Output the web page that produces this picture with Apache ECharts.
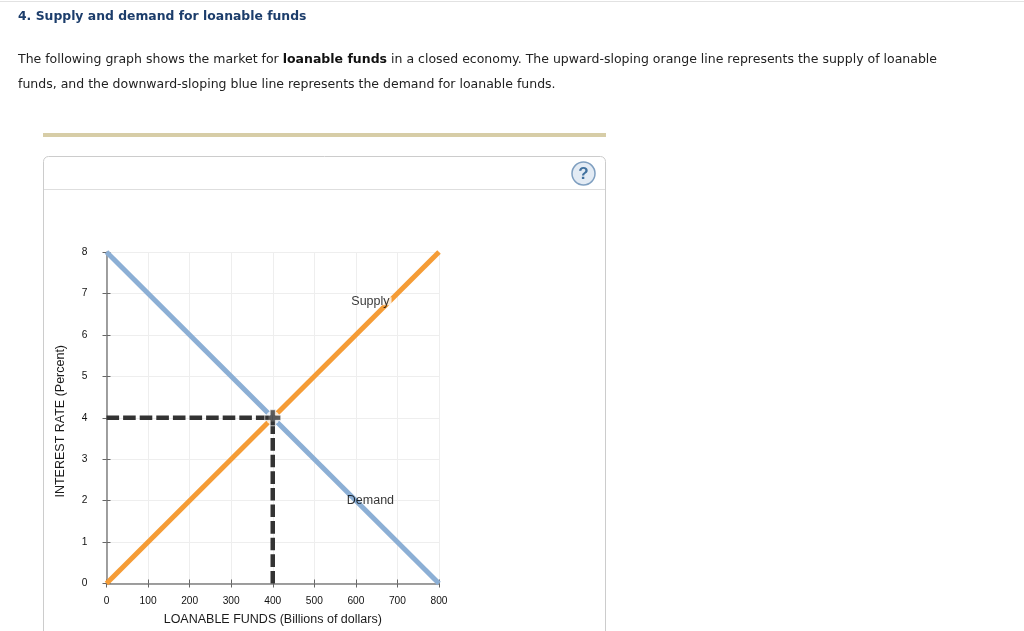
<!DOCTYPE html>
<html><head><meta charset="utf-8">
<style>html,body{margin:0;padding:0;background:#fff;overflow:hidden}#c{width:1024px;height:631px}</style>
<script src="https://cdn.jsdelivr.net/npm/echarts@6/dist/echarts.min.js"></script>
</head><body><div id="c"></div>
<script>
const heading = "4. Supply and demand for loanable funds";
const introBefore = "The following graph shows the market for ";
const introBold = "loanable funds";
const introAfter = " in a closed economy. The upward-sloping orange line represents the supply of loanable";
const introLine2 = "funds, and the downward-sloping blue line represents the demand for loanable funds.";
const xTitle = "LOANABLE FUNDS (Billions of dollars)";
const yTitle = "INTEREST RATE (Percent)";
const supplyData = [[0,0],[800,8]];
const demandData = [[0,8],[800,0]];
const eqHoriz = [[0,4],[400,4]];
const eqVert = [[400,0],[400,4]];
const equilibrium = [[400,4]];
const supplyLabel = [[635,6.81]];
const demandLabel = [[635,1.99]];
const font = "Liberation Sans";
const pageFont = "DejaVu Sans";
const chart = echarts.init(document.getElementById('c'), null, {renderer:'canvas'});
const plus = 'path://M-2.6,-8H2.6V-2.6H8V2.6H2.6V8H-2.6V2.6H-8V-2.6H-2.6Z';
const pageText = (x,y,style)=>({type:'text',x,y,silent:true,style:Object.assign({fontFamily:pageFont,fontSize:12.5,fill:'#222',verticalAlign:'middle'},style)});
const axisGrey = '#808080';
chart.setOption({
  animation:false,
  backgroundColor:'#fff',
  grid:{left:106.5,top:252,width:332.5,height:332,containLabel:false},
  xAxis:[{type:'value',min:0,max:800,interval:100,
    name:xTitle,nameLocation:'middle',nameGap:29.5,nameTextStyle:{fontFamily:font,fontSize:12.5,color:'#1a1a1a'},
    axisLine:{show:true,onZero:false,lineStyle:{color:axisGrey,width:1.5}},
    axisTick:{show:true,length:4,lineStyle:{color:'#666'}},
    axisLabel:{fontFamily:font,fontSize:10.2,color:'#111',margin:12.5,hideOverlap:false,showMinLabel:true,showMaxLabel:true},
    splitLine:{show:true,lineStyle:{color:'#eeeeee',width:1}}},
   {type:'value',position:'bottom',min:0,max:800,interval:100,
    axisLine:{show:false},axisTick:{show:true,inside:true,length:4,lineStyle:{color:'#666'}},axisLabel:{show:false},splitLine:{show:false}}],
  yAxis:[{type:'value',min:0,max:8,interval:1,
    name:yTitle,nameLocation:'middle',nameRotate:90,nameGap:39,nameTextStyle:{fontFamily:font,fontSize:12.5,color:'#1a1a1a',padding:[0,0,0,-7]},
    axisLine:{show:true,onZero:false,lineStyle:{color:axisGrey,width:1.5}},
    axisTick:{show:true,length:4,lineStyle:{color:'#666'}},
    axisLabel:{fontFamily:font,fontSize:10.2,color:'#111',margin:19,padding:[2,0,0,0],showMinLabel:true,showMaxLabel:true},
    splitLine:{show:true,lineStyle:{color:'#eeeeee',width:1}}},
   {type:'value',position:'left',min:0,max:8,interval:1,
    axisLine:{show:false},axisTick:{show:true,inside:true,length:4,lineStyle:{color:'#666'}},axisLabel:{show:false},splitLine:{show:false}}],
  series:[
    {name:'Supply',type:'line',data:supplyData,showSymbol:false,silent:true,clip:false,z:3,lineStyle:{color:'#f59c36',width:5,cap:'butt'}},
    {name:'Demand',type:'line',data:demandData,showSymbol:false,silent:true,clip:false,z:3,lineStyle:{color:'#8cafd5',width:5,cap:'butt'}},
    {name:'Halo',type:'scatter',data:equilibrium,symbol:'circle',symbolSize:14,silent:true,z:4,itemStyle:{color:'#fff'}},
    {name:'EqH',type:'line',data:eqHoriz,showSymbol:false,silent:true,z:5,lineStyle:{color:'#333',width:4.5,type:[12.6,4],cap:'butt'}},
    {name:'EqV',type:'line',data:eqVert,showSymbol:false,silent:true,z:5,lineStyle:{color:'#333',width:4.5,type:[12.6,4],cap:'butt'}},
    {name:'Equilibrium',type:'scatter',data:equilibrium,symbol:plus,symbolSize:16,silent:true,z:6,itemStyle:{color:'#333',borderColor:'#fff',borderWidth:0.8}},
    {name:'SupplyLabel',type:'scatter',data:supplyLabel,symbolSize:1,silent:true,z:7,itemStyle:{color:'transparent'},
      label:{show:true,position:'inside',formatter:'Supply',fontFamily:font,fontSize:12.5,color:'#000',lineHeight:8,backgroundColor:'#fff',padding:[0,2,0,2]}},
    {name:'DemandLabel',type:'scatter',data:demandLabel,symbolSize:1,silent:true,z:7,itemStyle:{color:'transparent'},
      label:{show:true,position:'inside',formatter:'Demand',fontFamily:font,fontSize:12.5,color:'#000'}}
  ],
  graphic:{elements:[
    {type:'rect',silent:true,z:-10,shape:{x:0,y:1,width:1024,height:1},style:{fill:'#e2e2e2'}},
    pageText(18,16.5,{text:heading,fontWeight:'bold',fontSize:12.4,fill:'#1c3d6b'}),
    {type:'text',silent:true,x:18,y:59.5,style:{rich:{a:{fontFamily:pageFont,fontSize:12.5,fill:'#222'},b:{fontFamily:pageFont,fontSize:12.5,fontWeight:'bold',fill:'#111'}},
      text:'{a|'+introBefore+'}{b|'+introBold+'}{a|'+introAfter+'}',verticalAlign:'middle'}},
    pageText(18,84.5,{text:introLine2}),
    {type:'rect',silent:true,z:-10,shape:{x:43,y:133,width:563,height:4},style:{fill:'#d7cda7'}},
    {type:'rect',silent:true,z:-10,shape:{x:43.5,y:156.5,width:562,height:520,r:5},style:{fill:'#fff',stroke:'#cccccc',lineWidth:1}},
    {type:'rect',silent:true,z:-9,shape:{x:44,y:189,width:561,height:1},style:{fill:'#dedede'}},
    {type:'circle',silent:true,shape:{cx:583.5,cy:173.5,r:11.5},style:{fill:'#e3ebf4',stroke:'#7f9fc0',lineWidth:1.5}},
    {type:'text',silent:true,x:583.5,y:174,style:{text:'?',fontFamily:font,fontSize:17,fontWeight:'bold',fill:'#41719f',align:'center',verticalAlign:'middle'}}
  ]}
});
</script></body></html>
